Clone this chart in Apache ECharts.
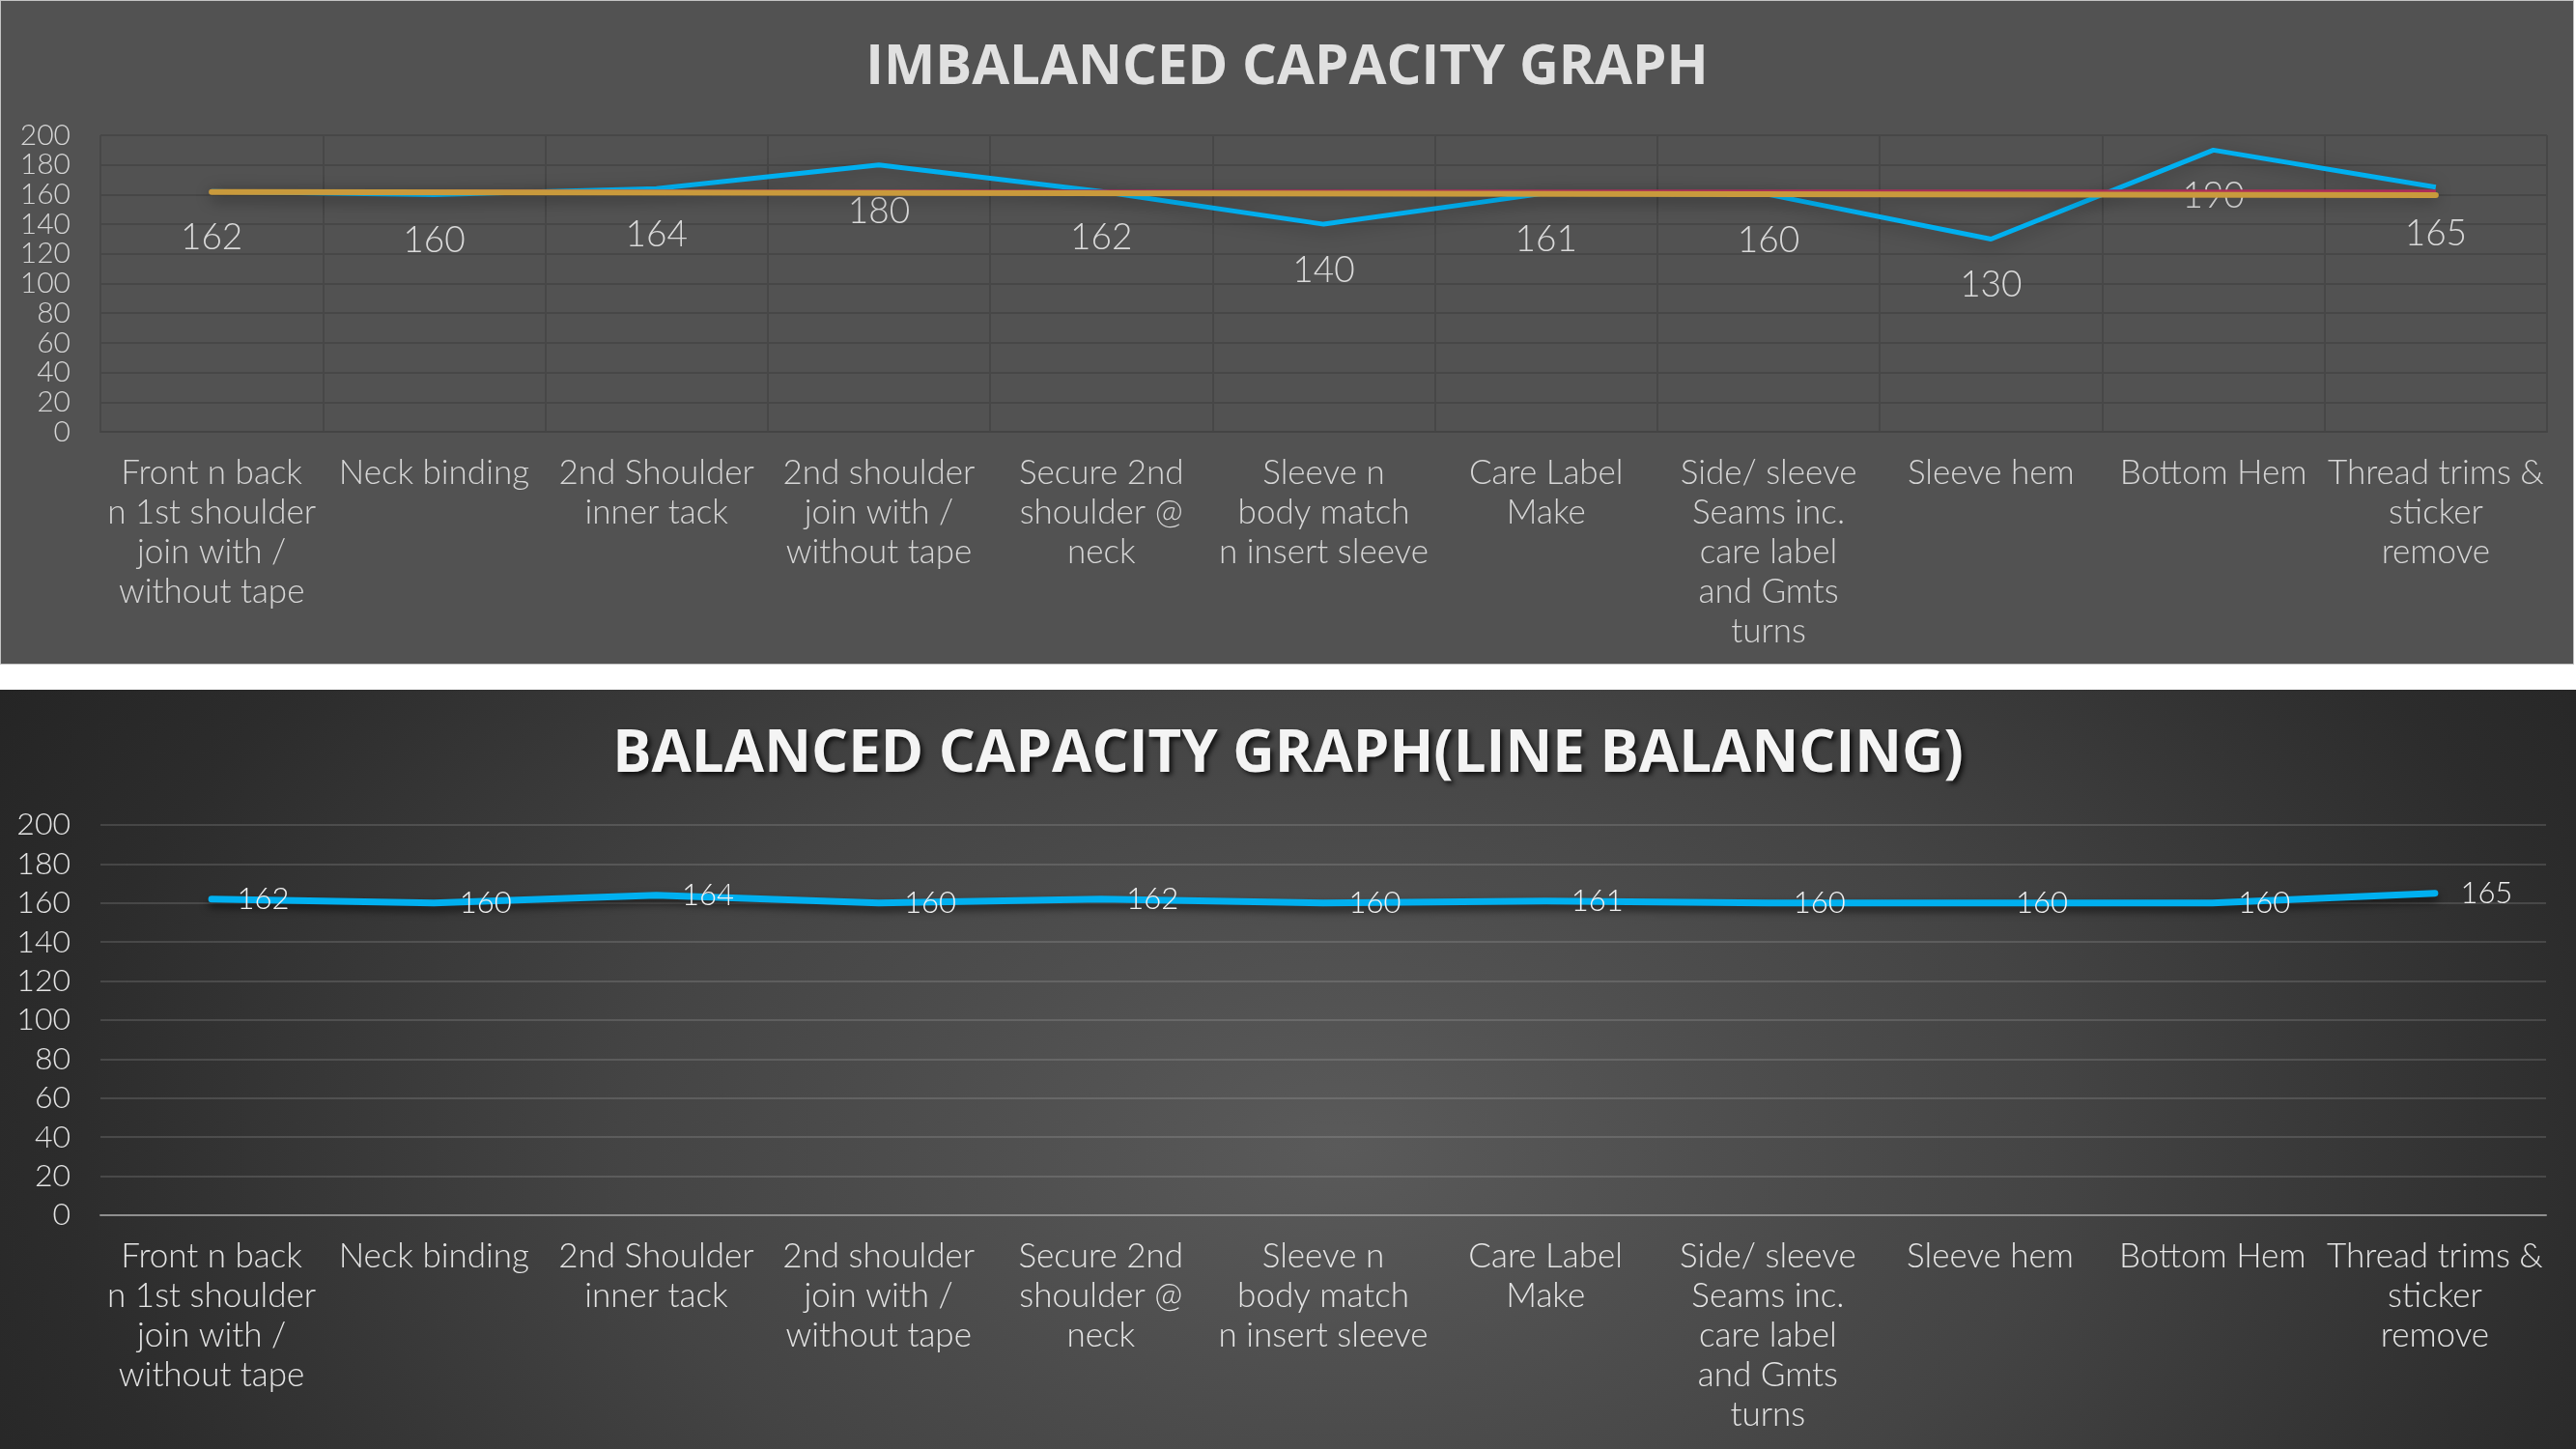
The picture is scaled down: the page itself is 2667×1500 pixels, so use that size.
<!DOCTYPE html>
<html>
<head>
<meta charset="utf-8">
<title>Capacity graphs</title>
<script src="https://cdn.jsdelivr.net/npm/echarts@6/dist/echarts.min.js"></script>
<style>
  html, body { margin: 0; padding: 0; background: #ffffff; }
  body { width: 2667px; height: 1500px; position: relative; overflow: hidden; }
  #topPanel {
    position: absolute; left: 0; top: 0;
    width: 2665px; height: 688px;
    box-sizing: border-box;
    border: 1px solid #c4c4c4;
    background: #525252;
  }
  #imbalanced { width: 2663px; height: 686px; }
  #balanced {
    position: absolute; left: 0; top: 714px;
    width: 2667px; height: 786px;
    background: radial-gradient(ellipse 62% 130% at 52% 60%, #5a5a5a 0%, #444444 45%, #2c2c2c 80%, #232323 100%);
  }
</style>
</head>
<body>
<div id="topPanel"><div id="imbalanced"></div></div>
<div id="balanced"></div>

<script>
// process steps (x axis), line breaks as in the original labels
const processes = [
  'Front n back\nn 1st shoulder\njoin with /\nwithout tape',
  'Neck binding',
  '2nd Shoulder\ninner tack',
  '2nd shoulder\njoin with /\nwithout tape',
  'Secure 2nd\nshoulder @\nneck',
  'Sleeve n\nbody match\nn insert sleeve',
  'Care Label\nMake',
  'Side/ sleeve\nSeams inc.\ncare label\nand Gmts\nturns',
  'Sleeve hem',
  'Bottom Hem',
  'Thread trims &\nsticker\nremove'
];

// capacity per process before balancing
const imbalancedCapacity = [162, 160, 164, 180, 162, 140, 161, 160, 130, 190, 165];
// straight orange reference line (only its two ends are read)
const trendLine = [161.8, null, null, null, null, null, null, null, null, null, 159.6];
// thin red reference line
const averageLine = [162.3, 162.3, 162.3, 162.3, 162.3, 162.3, 162.3, 162.3, 162.3, 162.3, 162.3];

// capacity per process after line balancing
const balancedCapacity = [162, 160, 164, 160, 162, 160, 161, 160, 160, 160, 165];

// value axis ticks
const yMin = 0;
const yMax = 200;
const yStep = 20;

const labelFont = 'Lato, "Open Sans", sans-serif';
const titleFont = '"Open Sans", Lato, sans-serif';

const topChart = echarts.init(document.getElementById('imbalanced'));
const bottomChart = echarts.init(document.getElementById('balanced'));

topChart.setOption({
  backgroundColor: 'transparent',
  animation: false,
  title: {
    text: 'IMBALANCED CAPACITY GRAPH',
    left: 'center',
    top: 36,
    textStyle: {
      color: '#e0e0e0',
      fontFamily: titleFont,
      fontWeight: 'bold',
      fontSize: 56.5
    }
  },
  grid: { left: 103, right: 27, top: 139, bottom: 240 },
  xAxis: {
    type: 'category',
    data: processes,
    boundaryGap: true,
    axisLine: { lineStyle: { color: '#444444', width: 2 } },
    axisTick: { show: false },
    splitLine: { show: true, interval: 0, lineStyle: { color: '#474747', width: 2 } },
    axisLabel: {
      interval: 0,
      margin: 22,
      color: '#d6d6d6',
      fontFamily: labelFont,
      fontWeight: 300,
      fontSize: 35,
      lineHeight: 41,
      align: 'center'
    }
  },
  yAxis: {
    type: 'value',
    min: yMin,
    max: yMax,
    interval: yStep,
    axisLine: { show: false },
    axisTick: { show: false },
    splitLine: { lineStyle: { color: '#474747', width: 2 } },
    axisLabel: {
      interval: 0,
      margin: 31,
      showMinLabel: true,
      showMaxLabel: true,
      hideOverlap: false,
      color: '#d6d6d6',
      fontFamily: labelFont,
      fontWeight: 300,
      fontSize: 30,
      lineHeight: 26
    }
  },
  series: [
    {
      name: 'Capacity',
      type: 'line',
      data: imbalancedCapacity,
      symbol: 'circle',
      symbolSize: 1,
      showSymbol: true,
      z: 2,
      itemStyle: { color: 'transparent', borderWidth: 0 },
      lineStyle: {
        color: '#00b0f0',
        width: 5,
        shadowColor: 'rgba(0,0,0,0.35)',
        shadowBlur: 18,
        shadowOffsetY: 4
      },
      label: {
        show: true,
        position: 'bottom',
        distance: 29,
        color: '#d9d9d9',
        fontFamily: labelFont,
        fontWeight: 300,
        fontSize: 37
      },
      labelLayout: { hideOverlap: false }
    },
    {
      name: 'Average',
      type: 'line',
      data: averageLine,
      symbol: 'none',
      z: 3,
      lineStyle: { color: '#b8305e', width: 3 }
    },
    {
      name: 'Trend',
      type: 'line',
      data: trendLine,
      connectNulls: true,
      symbol: 'none',
      z: 4,
      lineStyle: {
        color: '#c99a3c',
        width: 6,
        cap: 'round',
        shadowColor: 'rgba(0,0,0,0.3)',
        shadowBlur: 16,
        shadowOffsetY: 4
      }
    }
  ]
});

bottomChart.setOption({
  backgroundColor: 'transparent',
  animation: false,
  title: {
    text: 'BALANCED CAPACITY GRAPH(LINE BALANCING)',
    left: 'center',
    top: 33,
    textStyle: {
      color: '#f4f4f4',
      fontFamily: titleFont,
      fontWeight: 'bold',
      fontSize: 60,
      textShadowColor: 'rgba(0,0,0,0.75)',
      textShadowBlur: 5,
      textShadowOffsetX: 3,
      textShadowOffsetY: 3
    }
  },
  grid: { left: 104, right: 31, top: 140, bottom: 242 },
  xAxis: {
    type: 'category',
    data: processes,
    boundaryGap: true,
    axisLine: { lineStyle: { color: '#8f8f8f', width: 2 } },
    axisTick: { show: false },
    splitLine: { show: false },
    axisLabel: {
      interval: 0,
      margin: 22,
      color: '#e4e4e4',
      fontFamily: labelFont,
      fontWeight: 300,
      fontSize: 35,
      lineHeight: 41,
      align: 'center'
    }
  },
  yAxis: {
    type: 'value',
    min: yMin,
    max: yMax,
    interval: yStep,
    axisLine: { show: false },
    axisTick: { show: false },
    splitLine: { lineStyle: { color: 'rgba(255,255,255,0.13)', width: 2 } },
    axisLabel: {
      interval: 0,
      margin: 31,
      showMinLabel: true,
      showMaxLabel: true,
      color: '#e4e4e4',
      fontFamily: labelFont,
      fontWeight: 300,
      fontSize: 32
    }
  },
  series: [
    {
      name: 'Capacity',
      type: 'line',
      data: balancedCapacity,
      symbol: 'circle',
      symbolSize: 1,
      showSymbol: true,
      itemStyle: { color: 'transparent', borderWidth: 0 },
      lineStyle: {
        color: '#00b0f0',
        width: 7,
        cap: 'round',
        join: 'round',
        shadowColor: 'rgba(0,0,0,0.6)',
        shadowBlur: 8,
        shadowOffsetY: 5
      },
      label: {
        show: true,
        position: 'right',
        distance: 26,
        color: '#f0f0f0',
        fontFamily: labelFont,
        fontWeight: 300,
        fontSize: 31
      },
      labelLayout: { hideOverlap: false }
    }
  ]
});
</script>
</body>
</html>
